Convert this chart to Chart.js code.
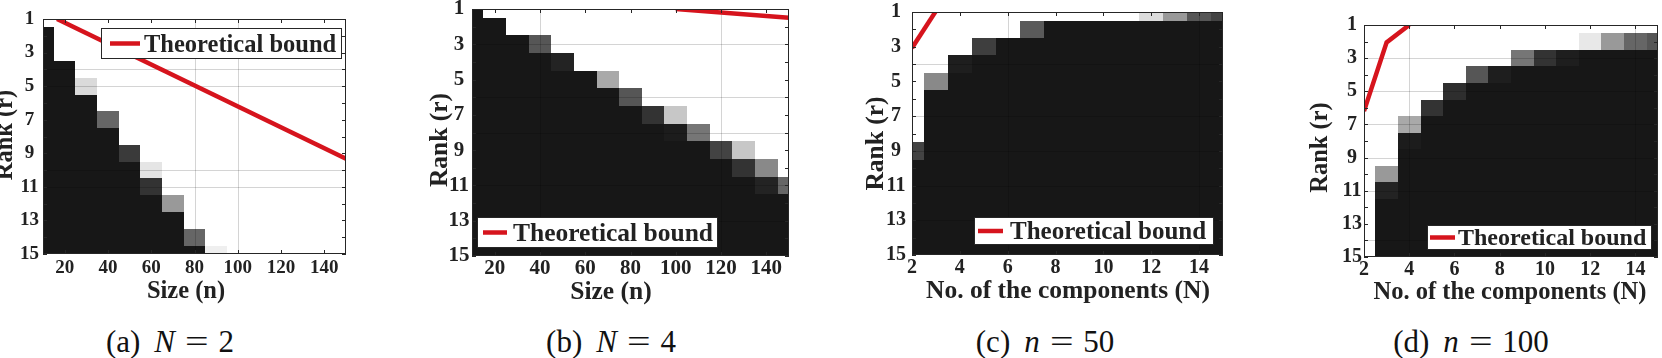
<!DOCTYPE html>
<html>
<head>
<meta charset="utf-8">
<script src="https://cdn.jsdelivr.net/npm/chart.js@4.4.1/dist/chart.umd.min.js"></script>
<style>
  html, body { margin: 0; padding: 0; background: #fff; }
  #wrap { position: relative; width: 1662px; height: 358px; overflow: hidden; background: #fff; }
  canvas { position: absolute; top: 0; }
  .cap { position: absolute; top: 326px; width: 300px; text-align: center; white-space: nowrap;
         font-family: 'Liberation Serif', 'Times New Roman', serif; font-size: 31px; line-height: 31px; color: #111; }
  .cap i { font-style: italic; margin-left: 14px; }
  .cap .eq { display: inline-block; margin: 0 13px; transform: scaleX(1.35); }
</style>
</head>
<body>
<div id="wrap">
  <canvas id="ca" width="400" height="310" style="left:0px"></canvas>
  <canvas id="cb" width="410" height="310" style="left:400px"></canvas>
  <canvas id="cc" width="420" height="310" style="left:820px"></canvas>
  <canvas id="cd" width="412" height="310" style="left:1250px"></canvas>
  <div class="cap" style="left:20px">(a)<i>N</i><span class="eq">=</span>2</div>
  <div class="cap" style="left:461px">(b)<i>N</i><span class="eq">=</span>4</div>
  <div class="cap" style="left:895px">(c)<i>n</i><span class="eq">=</span>50</div>
  <div class="cap" style="left:1321px">(d)<i>n</i><span class="eq">=</span>100</div>
</div>
<script>
// ---------------- DATA ----------------
const ranks = [1,2,3,4,5,6,7,8,9,10,11,12,13,14,15];
const rankTickLabels = [1,3,5,7,9,11,13,15];
const sizes = [10,20,30,40,50,60,70,80,90,100,110,120,130,140,150];
const sizeTickLabels = [20,40,60,80,100,120,140];
const comps = [2,3,4,5,6,7,8,9,10,11,12,13,14,15];
const compTickLabels = [2,4,6,8,10,12,14];

// success rate per column (one inner array per x category, ranks 1..15)
const rateN2 = [
  [0,1,1,1,1,1,1,1,1,1,1,1,1,1,1],
  [0,0,0,1,1,1,1,1,1,1,1,1,1,1,1],
  [0,0,0,0,0.16,1,1,1,1,1,1,1,1,1,1],
  [0,0,0,0,0,0,0.66,1,1,1,1,1,1,1,1],
  [0,0,0,0,0,0,0,0,0.85,1,1,1,1,1,1],
  [0,0,0,0,0,0,0,0,0,0.11,0.88,1,1,1,1],
  [0,0,0,0,0,0,0,0,0,0,0,0.44,1,1,1],
  [0,0,0,0,0,0,0,0,0,0,0,0,0,0.66,1],
  [0,0,0,0,0,0,0,0,0,0,0,0,0,0,0.07],
  [0,0,0,0,0,0,0,0,0,0,0,0,0,0,0],
  [0,0,0,0,0,0,0,0,0,0,0,0,0,0,0],
  [0,0,0,0,0,0,0,0,0,0,0,0,0,0,0],
  [0,0,0,0,0,0,0,0,0,0,0,0,0,0,0],
  [0,0,0,0,0,0,0,0,0,0,0,0,0,0,0],
  [0,0,0,0,0,0,0,0,0,0,0,0,0,0,0]
];
const rateN4 = [
  [1,1,1,1,1,1,1,1,1,1,1,1,1,1,1],
  [0,1,1,1,1,1,1,1,1,1,1,1,1,1,1],
  [0,0,1,1,1,1,1,1,1,1,1,1,1,1,1],
  [0,0,0.73,1,1,1,1,1,1,1,1,1,1,1,1],
  [0,0,0,0.95,1,1,1,1,1,1,1,1,1,1,1],
  [0,0,0,0,1,1,1,1,1,1,1,1,1,1,1],
  [0,0,0,0,0.37,1,1,1,1,1,1,1,1,1,1],
  [0,0,0,0,0,0.73,1,1,1,1,1,1,1,1,1],
  [0,0,0,0,0,0,0.88,1,1,1,1,1,1,1,1],
  [0,0,0,0,0,0,0.24,0.98,1,1,1,1,1,1,1],
  [0,0,0,0,0,0,0,0.59,1,1,1,1,1,1,1],
  [0,0,0,0,0,0,0,0,0.81,1,1,1,1,1,1],
  [0,0,0,0,0,0,0,0,0.24,0.88,1,1,1,1,1],
  [0,0,0,0,0,0,0,0,0,0.51,0.95,1,1,1,1],
  [0,0,0,0,0,0,0,0,0,0,0.66,1,1,1,1]
];
const rate50 = [
  [0,0,0,0,0,0,0,0,0.81,1,1,1,1,1,1],
  [0,0,0,0,0.51,1,1,1,1,1,1,1,1,1,1],
  [0,0,0,0.97,1,1,1,1,1,1,1,1,1,1,1],
  [0,0,0.83,1,1,1,1,1,1,1,1,1,1,1,1],
  [0,0,1,1,1,1,1,1,1,1,1,1,1,1,1],
  [0,0.71,1,1,1,1,1,1,1,1,1,1,1,1,1],
  [0,1,1,1,1,1,1,1,1,1,1,1,1,1,1],
  [0,1,1,1,1,1,1,1,1,1,1,1,1,1,1],
  [0,1,1,1,1,1,1,1,1,1,1,1,1,1,1],
  [0,1,1,1,1,1,1,1,1,1,1,1,1,1,1],
  [0.15,1,1,1,1,1,1,1,1,1,1,1,1,1,1],
  [0.44,1,1,1,1,1,1,1,1,1,1,1,1,1,1],
  [0.73,1,1,1,1,1,1,1,1,1,1,1,1,1,1],
  [0.81,1,1,1,1,1,1,1,1,1,1,1,1,1,1]
];
const rate100 = [
  [0,0,0,0,0,0,0,0,0,0,0,0,0,0,0],
  [0,0,0,0,0,0,0,0,0,0.44,0.95,1,1,1,1],
  [0,0,0,0,0,0,0.37,0.98,1,1,1,1,1,1,1],
  [0,0,0,0,0,0.88,1,1,1,1,1,1,1,1,1],
  [0,0,0,0,0.9,1,1,1,1,1,1,1,1,1,1],
  [0,0,0,0.73,1,1,1,1,1,1,1,1,1,1,1],
  [0,0,0,0.97,1,1,1,1,1,1,1,1,1,1,1],
  [0,0,0.59,1,1,1,1,1,1,1,1,1,1,1,1],
  [0,0,0.88,1,1,1,1,1,1,1,1,1,1,1,1],
  [0,0,0.97,1,1,1,1,1,1,1,1,1,1,1,1],
  [0,0.1,1,1,1,1,1,1,1,1,1,1,1,1,1],
  [0,0.44,1,1,1,1,1,1,1,1,1,1,1,1,1],
  [0,0.66,1,1,1,1,1,1,1,1,1,1,1,1,1],
  [0,0.73,1,1,1,1,1,1,1,1,1,1,1,1,1]
];

// theoretical bound curves
const boundN2X = [16.5, 150];   const boundN2R = [1, 9.33];
const boundN4X = [100, 150];    const boundN4R = [1, 1.5];
const bound50X = [2, 3];        const bound50R = [3.07, 0.95];
const bound100X = [2, 3, 4];    const bound100R = [6.2, 2.05, 1];

const legendText = 'Theoretical bound';

// ---------------- STYLE / LAYOUT ----------------
const FONT = "'Liberation Serif', 'Times New Roman', serif";
const INK = '#222222';
const RED = '#d6141d';
const H = 310;

const panels = [
  { canvas:'ca', ox:0, w:400, area:{l:43,r:346,t:19,b:254},
    cats:sizes, mat:rateN2, xMin:10, xMax:150, xTicks:sizeTickLabels,
    bx:boundN2X, br:boundN2R, xTitle:'Size (n)',
    fs:{tick:19, title:24.5, legend:24.5}, xPad:3, yPad:4,
    xTitlePos:[186,298], yTitlePos:[12,135],
    legend:{box:[101,28,342,59], line:[110,140], text:144},
    gx:[80,100], gy:[4,5,10,11] },
  { canvas:'cb', ox:400, w:410, area:{l:472,r:789,t:9,b:256},
    cats:sizes, mat:rateN4, xMin:10, xMax:150, xTicks:sizeTickLabels,
    bx:boundN4X, br:boundN4R, xTitle:'Size (n)',
    fs:{tick:21, title:25.5, legend:25.5}, xPad:0, yPad:2.5,
    xTitlePos:[611,299], yTitlePos:[447,140],
    legend:{box:[477,217,718,248], line:[483,507], text:513},
    gx:[40,120], gy:[3,6,8,11,13] },
  { canvas:'cc', ox:820, w:420, area:{l:912,r:1223,t:12,b:255},
    cats:comps, mat:rate50, xMin:2, xMax:15, xTicks:compTickLabels,
    bx:bound50X, br:bound50R, xTitle:'No. of the components (N)',
    fs:{tick:20, title:25.5, legend:25}, xPad:1, yPad:6,
    xTitlePos:[1068,298], yTitlePos:[883,143.5],
    legend:{box:[974,217,1214,245], line:[978,1003], text:1010},
    gx:[6,14], gy:[4,7,9,11,13] },
  { canvas:'cd', ox:1250, w:412, area:{l:1364,r:1658,t:25,b:257},
    cats:comps, mat:rate100, xMin:2, xMax:15, xTicks:compTickLabels,
    bx:bound100X, br:bound100R, xTitle:'No. of the components (N)',
    fs:{tick:20, title:24.5, legend:24}, xPad:1, yPad:2,
    xTitlePos:[1510,299], yTitlePos:[1327,147.5],
    legend:{box:[1427,225,1652,250], line:[1430,1455], text:1458},
    gx:[4,14], gy:[3,5,7,9,11,14] }
];

function shade(v) {
  const g = Math.round(255 - v * (255 - 23));
  return `rgb(${g},${g},${g})`;
}

function makePlugin(p) {
  return {
    id: 'heat_' + p.canvas,
    beforeDatasetsDraw(chart) {
      const { ctx, chartArea: ca, scales: { x, y } } = chart;
      ctx.save();
      ctx.beginPath();
      ctx.rect(ca.left, ca.top, ca.right - ca.left, ca.bottom - ca.top);
      ctx.clip();
      const half = (p.cats[1] - p.cats[0]) / 2;
      p.cats.forEach((c, i) => {
        const x0 = Math.round(x.getPixelForValue(c - half));
        const x1 = Math.round(x.getPixelForValue(c + half));
        ranks.forEach((r, j) => {
          const v = p.mat[i][j];
          if (!v) return;
          const y0 = Math.round(y.getPixelForValue(r - 0.5));
          const y1 = Math.round(y.getPixelForValue(r + 0.5));
          ctx.fillStyle = shade(v);
          ctx.fillRect(Math.min(x0, x1), Math.min(y0, y1), Math.abs(x1 - x0), Math.abs(y1 - y0));
        });
      });
      // grid lines on top of the image
      ctx.strokeStyle = 'rgba(0,0,0,0.17)';
      ctx.lineWidth = 1;
      p.gx.forEach(v => {
        const px = Math.round(x.getPixelForValue(v)) + 0.5;
        ctx.beginPath(); ctx.moveTo(px, ca.top); ctx.lineTo(px, ca.bottom); ctx.stroke();
      });
      p.gy.forEach(v => {
        const py = Math.round(y.getPixelForValue(v)) + 0.5;
        ctx.beginPath(); ctx.moveTo(ca.left, py); ctx.lineTo(ca.right, py); ctx.stroke();
      });
      ctx.restore();
    },
    afterDatasetsDraw(chart) {
      const { ctx, chartArea: ca, scales: { x, y } } = chart;
      const ox = p.ox;
      ctx.save();
      // box
      ctx.strokeStyle = '#262626';
      ctx.lineWidth = 1;
      ctx.strokeRect(ca.left + 0.5, ca.top + 0.5, ca.right - ca.left - 1, ca.bottom - ca.top - 1);
      // inward ticks
      const tl = 4;
      ctx.beginPath();
      ranks.forEach(r => {
        const py = Math.round(y.getPixelForValue(r)) + 0.5;
        ctx.moveTo(ca.left, py); ctx.lineTo(ca.left + tl, py);
        ctx.moveTo(ca.right, py); ctx.lineTo(ca.right - tl, py);
      });
      p.xTicks.forEach(v => {
        const px = Math.round(x.getPixelForValue(v)) + 0.5;
        ctx.moveTo(px, ca.top); ctx.lineTo(px, ca.top + tl);
        ctx.moveTo(px, ca.bottom); ctx.lineTo(px, ca.bottom - tl);
      });
      ctx.stroke();
      // legend
      const L = p.legend;
      const bx0 = L.box[0] - ox, by0 = L.box[1], bx1 = L.box[2] - ox, by1 = L.box[3];
      ctx.fillStyle = '#ffffff';
      ctx.fillRect(bx0, by0, bx1 - bx0, by1 - by0);
      ctx.strokeStyle = '#262626';
      ctx.strokeRect(bx0 + 0.5, by0 + 0.5, bx1 - bx0 - 1, by1 - by0 - 1);
      const cy = (by0 + by1) / 2;
      ctx.strokeStyle = RED;
      ctx.lineWidth = 4.5;
      ctx.beginPath(); ctx.moveTo(L.line[0] - ox, cy); ctx.lineTo(L.line[1] - ox, cy); ctx.stroke();
      ctx.fillStyle = INK;
      ctx.font = `bold ${p.fs.legend}px ${FONT}`;
      ctx.textAlign = 'left';
      ctx.textBaseline = 'alphabetic';
      ctx.fillText(legendText, L.text - ox, cy + p.fs.legend * 0.33);
      // axis titles
      ctx.font = `bold ${p.fs.title}px ${FONT}`;
      ctx.textAlign = 'center';
      ctx.fillText(p.xTitle, p.xTitlePos[0] - ox, p.xTitlePos[1]);
      ctx.translate(p.yTitlePos[0] - ox, p.yTitlePos[1]);
      ctx.rotate(-Math.PI / 2);
      ctx.fillText('Rank (r)', 0, 0);
      ctx.restore();
    }
  };
}

panels.forEach(p => {
  const el = document.getElementById(p.canvas);
  const pts = p.bx.map((v, i) => ({ x: v, y: p.br[i] }));
  new Chart(el, {
    type: 'scatter',
    data: { datasets: [{
      label: legendText, data: pts, showLine: true, fill: false,
      borderColor: RED, backgroundColor: RED, borderWidth: 4.5,
      pointRadius: 0, tension: 0, borderCapStyle: 'butt'
    }] },
    options: {
      responsive: false, animation: false, devicePixelRatio: 1,
      layout: { padding: { top: p.area.t, right: p.ox + p.w - p.area.r, bottom: 0, left: 0 } },
      plugins: { legend: { display: false }, tooltip: { enabled: false }, title: { display: false } },
      scales: {
        x: {
          type: 'linear', min: p.xMin, max: p.xMax,
          afterBuildTicks: s => { s.ticks = p.xTicks.map(v => ({ value: v })); },
          afterFit: s => { s.height = H - p.area.b; s.paddingLeft = 0; s.paddingRight = 0; },
          grid: { display: false, drawTicks: false },
          border: { display: false },
          ticks: { autoSkip: false, maxRotation: 0, minRotation: 0, padding: p.xPad, color: INK,
                   font: { family: FONT, size: p.fs.tick, weight: 'bold' },
                   callback: v => String(v) }
        },
        y: {
          type: 'linear', reverse: true, min: 1, max: 15,
          afterBuildTicks: s => { s.ticks = ranks.map(v => ({ value: v })); },
          afterFit: s => { s.width = p.area.l - p.ox; s.paddingTop = 0; s.paddingBottom = 0; },
          grid: { display: false, drawTicks: false },
          border: { display: false },
          ticks: { autoSkip: false, padding: p.yPad, crossAlign: 'center', color: INK,
                   font: { family: FONT, size: p.fs.tick, weight: 'bold' },
                   callback: v => rankTickLabels.includes(v) ? String(v) : '' }
        }
      }
    },
    plugins: [makePlugin(p)]
  });
});
</script>
</body>
</html>
